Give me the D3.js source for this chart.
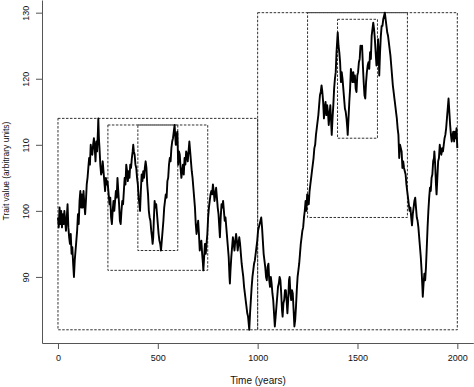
<!DOCTYPE html>
<html>
<head>
<meta charset="utf-8">
<script src="https://cdn.jsdelivr.net/npm/d3@7"></script>
<style>
  body { margin: 0; background: #fff; }
  svg text { font-family: "Liberation Sans", Arial, sans-serif; fill: #111; }
</style>
</head>
<body>
<svg width="474" height="387"></svg>
<script>
// time axis (years) and trait values
const years = [
  0,4,8,12,16,20,24,28,32,36,40,44,48,52,56,60,64,68,72,76,80,84,88,92,96,100,104,108,112,116,120,124,128,132,136,140,144,148,152,156,160,164,168,172,176,180,184,188,192,196,200,202,205,208,212,216,220,224,228,232,236,240,244,248,
  254,258,262,266,270,274,278,282,286,290,294,298,302,306,310,314,318,322,326,330,334,338,342,346,350,354,358,362,366,370,374,377,380,384,388,392,396,400,404,408,411,415,419,423,427,431,435,439,443,447,451,455,459,463,467,471,474,477,480,484,488,492,496,
  500,504,508,512,516,520,524,528,532,536,540,544,548,552,556,560,564,568,572,576,580,584,587,590,594,598,602,606,610,614,618,622,626,630,634,638,642,646,650,654,658,662,666,670,674,678,682,686,690,694,698,702,706,710,714,718,722,726,728,732,736,740,744,748,
  752,756,760,764,768,772,776,780,784,788,792,796,800,804,808,811,815,819,823,827,831,835,839,843,847,851,855,859,861,864,868,872,876,880,884,888,892,896,900,904,908,912,916,920,924,928,932,936,940,944,948,952,955,958,962,966,970,974,978,982,986,990,994,998,
  1002,1006,1010,1014,1018,1022,1026,1030,1034,1038,1042,1046,1050,1054,1058,1062,1066,1070,1074,1078,1082,1086,1090,1094,1098,1102,1106,1110,1114,1118,1122,1125,1129,1133,1137,1141,1145,1149,1153,1157,1160,1164,1168,1172,1176,1180,1184,1188,1192,1196,1200,1204,1208,1212,1216,1220,1224,1228,1232,1236,1240,1244,1248,
  1252,1256,1260,1264,1268,1272,1276,1280,1284,1288,1292,1296,1300,1304,1308,1312,1316,1320,1324,1328,1332,1336,1340,1344,1348,1352,1356,1360,1364,1368,1371,1375,1379,1383,1387,1391,1395,1399,1401,1405,1409,1413,1417,1421,1425,1429,1433,1437,1441,1445,1449,1451,1455,1459,1463,1467,1471,1475,1479,1483,1487,1491,1495,1499,
  1503,1507,1511,1515,1519,1523,1527,1531,1535,1539,1543,1547,1551,1555,1559,1563,1567,1571,1575,1579,1583,1587,1591,1595,1599,1603,1606,1609,1613,1617,1621,1625,1629,1633,1637,1641,1645,1649,1653,1657,1661,1665,1669,1673,1677,1681,1685,1689,1693,1697,1701,1705,1709,1713,1717,1721,1725,1729,1733,1737,1741,1745,1749,
  1753,1757,1761,1765,1769,1773,1777,1781,1785,1789,1793,1797,1801,1805,1809,1813,1817,1821,1825,1827,1831,1835,1839,1843,1847,1851,1855,1859,1863,1867,1871,1875,1879,1883,1885,1889,1893,1896,1900,1904,1908,1912,1916,1920,1924,1928,1932,1936,1940,1944,1948,1952,1956,1960,1964,1968,1972,1976,1980,1984,1988,1992,1996,2000
];
const trait = [
  99,97.5,100.5,98,100,97.5,99.5,98,100,98.5,97,99,101,97.5,96,95,96.5,93.5,94.5,92,90,92.5,94,95.5,97,99.5,98,101.5,103,100.5,102.5,100.5,103,101,99.5,101.5,104,105,106.5,108,107,110,109,108.5,110,111,109.5,107.5,110.5,109,112,114,111,109.5,107,105.5,106,107.5,106,104.5,103,105,104,104.5,
  102.5,101,102,99,98,100,101.5,100,101.5,103,102,105,103,101,98.5,98,100,101.5,101,103,105,104,107,106,104.5,106,105,107,106.5,108,109,110,109,108.5,107,106.5,105,104,102,101,100,103,105.5,104.5,106,105,106.5,107.5,106.5,104,102.5,100,99,98.5,97,96,95,96,98.5,101.5,100.5,101,99.5,
  98,96.5,95.5,95,94,95.5,97,98.5,100.5,101.5,102.5,102,104.5,105,107,108,107.5,109.5,110.5,111,112,113,111.5,110,111.5,112,107,109,108.5,106.5,105,106,107,105.5,108,107,109,108.5,107.5,109,110.5,109,107.5,106,105,103.5,102,100.5,98,96.5,97.5,98.5,96.5,94,95,95.5,93.5,92,91,93,95,93.5,95,96.5,
  99,100.5,101.5,102.5,103,102.5,104,103,101.5,102.5,103.5,102,100.5,99.5,97.5,96,99,101,100.5,101.5,100,98.5,99,97.5,96,94.5,93,90,89,91,93,94.5,96,95,94,95.5,96.5,95.5,94,95,96,95,93.5,92,91,90,88.5,87.5,86.5,85.5,84.5,84,83,82,84.5,86.5,88.5,90,91,92,92.5,93.5,94.5,95.5,
  97,97.5,98,98.5,99,97.5,95.5,93.5,92.5,91.5,90,89.5,91.5,92,89.5,88.5,90,89,87.5,86.5,84.5,82.5,84,85.5,87,88.5,89,90,89.5,87.5,85,84,86,86.5,88,88,86.5,84.5,86.5,89.5,90,87.5,86.5,88,87.5,85,82.5,83.5,85.5,88,90,91,92,93.5,95,96,97,97.5,99,100,101.5,100,102.5,
  102,101,103,104,105,106,107,108,109.5,110,111.5,112.5,113.5,114.5,116,117.5,118,119,118,116.5,114,115.5,116.5,114.5,116,115,113,114.5,116,113.5,111.5,114,116,118.5,120,121,124,126,127,125,124,122.5,119.5,121,120,118.5,117,115.5,115,114,112.5,111.5,114,116.5,118.5,121.5,120.5,119.5,121,119.5,120.5,118.5,118,120.5,
  121,122.5,123,125,124.5,125,122,119.5,117.5,117,119.5,121,122,122.5,121.5,124,123,126.5,127.5,128.5,127.5,126,124,122,122.5,126,124,120.5,124,126.5,128,128,129,129.5,130,129,128,127,126.5,125.5,124.5,123.5,122,120.5,119,118,117,116,115,114,112.5,111.5,108,110,109.5,109,106.5,107.5,106.5,106,105.5,104,103,
  102,101,100,100.5,99,97.8,99.5,100.5,101.5,102,100.5,99,98.5,97.5,96,94.5,93,91,88.5,87,89,90.5,89.5,91.5,94.5,97.5,100,102,103.5,103,105,105.5,107.5,108,109,107,104,102.5,105,107.5,108,110,109,108.5,109.5,109,110,111,111.5,112.5,114,115.5,117,115,113,111.5,110.5,111.5,112,110.5,112,111,112.5,109.5
];

// dashed boxes: [start year, end year, low trait, high trait]
const boxStart = [0, 250, 400, 1000, 1250, 1400];
const boxEnd   = [1000, 750, 600, 2000, 1750, 1600];
const boxLow   = [82, 91, 94, 82, 99, 111];
const boxHigh  = [114, 113, 113, 130, 130, 129];

const xTicks = [0, 500, 1000, 1500, 2000];
const yTicks = [90, 100, 110, 120, 130];

const svg = d3.select("svg");

const x = d3.scaleLinear().domain([-80, 2080]).range([42, 473.3]);
const y = d3.scaleLinear().domain([80, 131.92]).range([343, 0]);

// boxes
const boxes = boxStart.map((s, i) => ({ s: s, e: boxEnd[i], lo: boxLow[i], hi: boxHigh[i] }));
svg.append("g")
  .selectAll("rect")
  .data(boxes)
  .enter()
  .append("rect")
  .attr("x", d => x(d.s))
  .attr("y", d => y(d.hi))
  .attr("width", d => x(d.e) - x(d.s))
  .attr("height", d => y(d.lo) - y(d.hi))
  .attr("fill", "none")
  .attr("stroke", "#333")
  .attr("stroke-width", 1)
  .attr("stroke-dasharray", "2.5,1.5");

// series
const pts = years.map((t, i) => [t, trait[i]]);
svg.append("path")
  .datum(pts)
  .attr("fill", "none")
  .attr("stroke", "#000")
  .attr("stroke-width", 1.9)
  .attr("stroke-linejoin", "round")
  .attr("d", d3.line().x(d => x(d[0])).y(d => y(d[1])));

// axes
const xAxis = d3.axisBottom(x).tickValues(xTicks).tickFormat(d3.format("d"))
  .tickSize(6).tickSizeOuter(0).tickPadding(6);
const yAxis = d3.axisLeft(y).tickValues(yTicks).tickFormat(d3.format("d"))
  .tickSize(6).tickSizeOuter(0).tickPadding(5);

const gx = svg.append("g")
  .attr("transform", "translate(0,343)")
  .call(xAxis);
gx.select(".domain").attr("stroke", "#555");
gx.selectAll(".tick line").attr("stroke", "#555");
gx.selectAll("text").attr("font-size", 9).attr("fill", "#111").attr("font-family", null);

const gy = svg.append("g")
  .attr("transform", "translate(42,0)")
  .call(yAxis);
gy.select(".domain").attr("stroke", "#555");
gy.selectAll(".tick line").attr("stroke", "#555");
gy.selectAll("text")
  .attr("font-size", 9)
  .attr("fill", "#111")
  .attr("font-family", null)
  .attr("x", null).attr("dy", null)
  .attr("text-anchor", "middle")
  .attr("transform", "translate(-13,0) rotate(-90)");

svg.append("text")
  .attr("x", 258)
  .attr("y", 384)
  .attr("text-anchor", "middle")
  .attr("font-size", 10)
  .text("Time (years)");

svg.append("text")
  .attr("transform", "translate(9,171) rotate(-90)")
  .attr("text-anchor", "middle")
  .attr("font-size", 8.5)
  .text("Trait value (arbitrary units)");
</script>
</body>
</html>
